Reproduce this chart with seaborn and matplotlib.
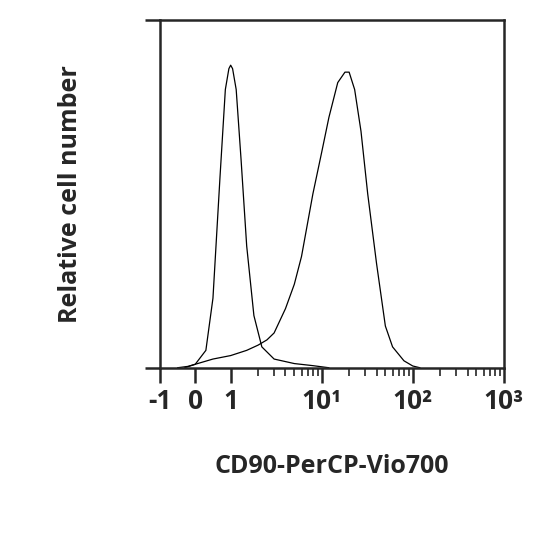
import matplotlib
matplotlib.use('Agg')
import matplotlib.pyplot as plt
import numpy as np
import pandas as pd
import seaborn as sns

# control (left) and stained (right) histograms
ctrl_x = [-0.5, -0.2, 0, 0.3, 0.5, 0.7, 0.85, 0.95, 1.0, 1.05, 1.15, 1.3, 1.5, 1.8, 2.2, 3, 5, 8, 12]
ctrl_y = [0, 0.004, 0.01, 0.05, 0.2, 0.55, 0.8, 0.86, 0.87, 0.86, 0.8, 0.6, 0.35, 0.15, 0.06, 0.025, 0.012, 0.006, 0]
cd90_x = [-0.3, 0, 0.5, 1, 1.5, 2, 2.5, 3, 4, 5, 6, 8, 10, 12, 15, 18, 20, 23, 27, 32, 40, 50, 60, 80, 100, 120]
cd90_y = [0, 0.01, 0.025, 0.035, 0.05, 0.065, 0.08, 0.1, 0.17, 0.24, 0.32, 0.5, 0.62, 0.72, 0.82, 0.85, 0.85, 0.8, 0.68, 0.5, 0.3, 0.12, 0.06, 0.02, 0.005, 0]
tick_vals = [-1, 0, 1, 10, 100, 1000]
tick_labels = ['-1', '0', '1', '10¹', '10²', '10³']

sns.set_style('ticks')
plt.rcParams['font.family'] = ['Open Sans', 'DejaVu Sans']

fig = plt.figure(figsize=(5.4, 5.4), dpi=100)
ax = fig.add_axes([0.296, 0.319, 0.637, 0.644])
ax.set_xscale('symlog', linthresh=1, linscale=0.35)
sns.lineplot(x=ctrl_x, y=ctrl_y, ax=ax, color='black', lw=0.9, sort=False)
sns.lineplot(x=cd90_x, y=cd90_y, ax=ax, color='black', lw=0.9, sort=False)
ax.set_xlim(-1, 1000)
ax.set_ylim(0, 1)

minor = [v * 10**d for d in range(0, 3) for v in range(2, 10)]
ax.set_xticks(minor, minor=True)
ax.set_xticks(tick_vals)
ax.set_xticklabels(tick_labels, fontsize=19, fontweight='bold')
ax.set_yticks([0, 1])
ax.set_yticklabels([])
ax.tick_params(axis='both', which='major', length=11, width=1.8, direction='out')
ax.tick_params(axis='x', which='minor', length=6, width=1.2)
for s in ax.spines.values():
    s.set_linewidth(1.8)
ax.set_xlabel('CD90-PerCP-Vio700', fontsize=18, fontweight='bold', labelpad=28)
ax.set_ylabel('Relative cell number', fontsize=18, fontweight='bold', labelpad=41)
fig.savefig('out.png', dpi=100)
